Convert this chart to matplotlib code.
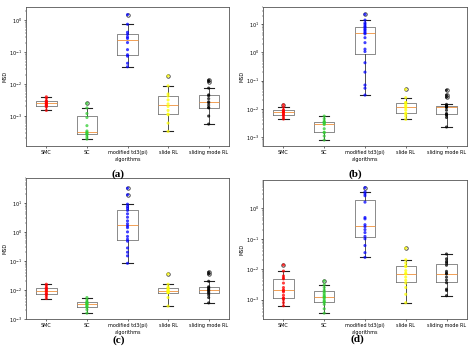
import matplotlib
matplotlib.use('Agg')
import matplotlib.pyplot as plt
import numpy as np

algorithms = ['SMC', 'SC', 'modified td3(pi)', 'slide RL', 'sliding mode RL']
point_colors = ['red', 'limegreen', 'blue', 'yellow', 'black']
panel_labels = ['(a)', '(b)', '(c)', '(d)']

# MSD values per algorithm, one set per panel
smc_a = [1.5e-3, 1.9e-3, 2.1e-3, 2.15e-3, 2.3e-3, 2.45e-3, 2.55e-3, 2.7e-3, 2.9e-3, 3.0e-3, 3.6e-3, 4.0e-3]
sc_a = [1.9e-4, 2.2e-4, 2.6e-4, 2.7e-4, 2.9e-4, 3.1e-4, 3.4e-4, 5.0e-4, 9.0e-4, 1.2e-3, 1.8e-3, 2.5e-3]
td3_a = [0.035, 0.045, 0.075, 0.083, 0.12, 0.2, 0.27, 0.3, 0.36, 0.42, 0.75, 1.5]
slide_a = [3.3e-4, 6.0e-4, 1.1e-3, 1.15e-3, 1.5e-3, 2.0e-3, 2.4e-3, 3.2e-3, 4.2e-3, 4.9e-3, 8.8e-3, 1.8e-2]
smrl_a = [5.6e-4, 1.0e-3, 1.8e-3, 1.85e-3, 2.2e-3, 2.6e-3, 2.8e-3, 3.5e-3, 4.3e-3, 4.6e-3, 7.5e-3, 1.2e-2, 1.33e-2]

smc_b = [4.4e-3, 5.0e-3, 5.9e-3, 6.1e-3, 6.8e-3, 7.4e-3, 7.8e-3, 8.3e-3, 8.8e-3, 9.2e-3, 1.15e-2, 1.4e-2]
sc_b = [8.0e-4, 1.1e-3, 1.45e-3, 1.5e-3, 2.0e-3, 2.8e-3, 3.1e-3, 3.3e-3, 3.4e-3, 3.7e-3, 4.5e-3, 5.6e-3]
td3_b = [0.031, 0.054, 0.07, 0.2, 0.43, 1.07, 1.3, 2.2, 3.3, 4.5, 4.9, 5.5, 6.2, 6.8, 7.7, 8.5,
         9.8, 11.0, 13.8, 22.0]
slide_b = [4.3e-3, 5.5e-3, 6.8e-3, 7.0e-3, 9.0e-3, 1.1e-2, 1.25e-2, 1.4e-2, 1.65e-2, 1.7e-2, 2.5e-2, 4.9e-2]
smrl_b = [2.3e-3, 5.0e-3, 6.0e-3, 6.4e-3, 6.9e-3, 9.0e-3, 1.12e-2, 1.18e-2, 1.2e-2, 1.23e-2, 1.25e-2,
          1.28e-2, 1.45e-2, 2.6e-2, 3.1e-2, 4.6e-2]

smc_c = [5.1e-3, 6.0e-3, 7.0e-3, 7.2e-3, 8.0e-3, 9.0e-3, 9.6e-3, 1.05e-2, 1.14e-2, 1.2e-2, 1.4e-2, 1.58e-2]
sc_c = [1.6e-3, 2.1e-3, 2.55e-3, 2.6e-3, 2.9e-3, 3.15e-3, 3.35e-3, 3.5e-3, 3.75e-3, 3.9e-3, 4.6e-3, 5.5e-3]
td3_c = [0.083, 0.15, 0.2, 0.28, 0.48, 0.56, 0.7, 1.0, 1.4, 1.6, 1.9, 2.4, 3.2, 4.2, 5.5, 6.5,
         7.5, 9.0, 19.0, 32.0]
slide_c = [2.8e-3, 5.5e-3, 8.0e-3, 8.2e-3, 8.8e-3, 9.3e-3, 9.7e-3, 1.05e-2, 1.18e-2, 1.25e-2, 1.58e-2, 3.55e-2]
smrl_c = [3.6e-3, 5.5e-3, 6.8e-3, 7.8e-3, 8.5e-3, 9.5e-3, 1.0e-2, 1.1e-2, 1.2e-2, 1.29e-2, 2.0e-2, 3.55e-2, 4.1e-2]

smc_d = [6.3e-4, 8.0e-4, 1.0e-3, 1.1e-3, 1.15e-3, 1.4e-3, 1.8e-3, 1.95e-3, 2.1e-3, 2.5e-3, 3.5e-3, 4.8e-3,
         5.2e-3, 6.0e-3, 8.7e-3, 1.38e-2]
sc_d = [3.6e-4, 5.0e-4, 7.0e-4, 8.2e-4, 8.6e-4, 9.5e-4, 1.1e-3, 1.2e-3, 1.26e-3, 1.4e-3, 1.6e-3, 1.8e-3,
        2.05e-3, 2.5e-3, 3.1e-3, 4.1e-3]
td3_d = [0.0245, 0.035, 0.06, 0.1, 0.12, 0.16, 0.2, 0.25, 0.29, 0.45, 0.5, 1.6, 2.6, 3.0, 3.5, 4.8]
slide_d = [7.9e-4, 1.5e-3, 2.5e-3, 3.5e-3, 4.3e-3, 5.5e-3, 7.0e-3, 7.4e-3, 9.0e-3, 1.2e-2, 1.28e-2, 1.6e-2,
           2.04e-2, 4.9e-2]
smrl_d = [1.35e-3, 2.0e-3, 2.2e-3, 3.6e-3, 4.4e-3, 5.5e-3, 7.0e-3, 7.4e-3, 8.5e-3, 1.35e-2, 1.6e-2, 1.8e-2,
          2.19e-2, 3.16e-2]

panels = [
    [smc_a, sc_a, td3_a, slide_a, smrl_a],
    [smc_b, sc_b, td3_b, slide_b, smrl_b],
    [smc_c, sc_c, td3_c, slide_c, smrl_c],
    [smc_d, sc_d, td3_d, slide_d, smrl_d],
]
y_limits = [(1.15e-4, 2.6), (4.9e-4, 40), (1.0e-3, 72), (2.3e-4, 8.5)]

# axes boxes in figure fractions [left, bottom, width, height]
axes_rects = [
    [0.055, 0.584, 0.428, 0.396],
    [0.555, 0.584, 0.430, 0.396],
    [0.055, 0.091, 0.428, 0.402],
    [0.555, 0.091, 0.430, 0.396],
]
caption_pos = [(0.250, 0.505), (0.750, 0.505), (0.250, 0.030), (0.753, 0.035)]


def draw_panel(ax, groups, ylim):
    positions = np.arange(1, len(groups) + 1)
    ax.boxplot(groups, positions=positions, widths=0.5,
               boxprops=dict(linewidth=0.6, color='#777777'),
               whiskerprops=dict(linewidth=0.6, color='#333333'),
               capprops=dict(linewidth=0.8, color='#222222'),
               medianprops=dict(linewidth=0.6, color='#f0903a'),
               flierprops=dict(marker='o', markersize=2.5, markeredgewidth=0.6,
                               markeredgecolor='#333333'))
    for pos, vals, col in zip(positions, groups, point_colors):
        ax.scatter(np.full(len(vals), pos), vals, s=5, color=col, alpha=0.75,
                   edgecolors='none', zorder=3)
    ax.set_yscale('log')
    ax.set_ylim(*ylim)
    ax.set_xticks(positions)
    ax.set_xticklabels(algorithms)
    ax.set_xlabel('algorithms', fontsize=3.5, labelpad=1)
    ax.set_ylabel('MSD', fontsize=3.5, labelpad=1)
    ax.tick_params(labelsize=3.5, length=1.5, width=0.4, pad=1.5)
    ax.tick_params(which='minor', length=1, width=0.3)
    for spine in ax.spines.values():
        spine.set_linewidth(0.6)
        spine.set_color('#555555')


fig = plt.figure(figsize=(4.74, 3.51), dpi=100)
for groups, ylim, rect, label, cpos in zip(panels, y_limits, axes_rects, panel_labels, caption_pos):
    ax = fig.add_axes(rect)
    draw_panel(ax, groups, ylim)
    fig.text(cpos[0], cpos[1], label, ha='center', va='center', fontsize=8,
             fontweight='bold', family='Liberation Serif')

fig.savefig('out.png', dpi=100)
